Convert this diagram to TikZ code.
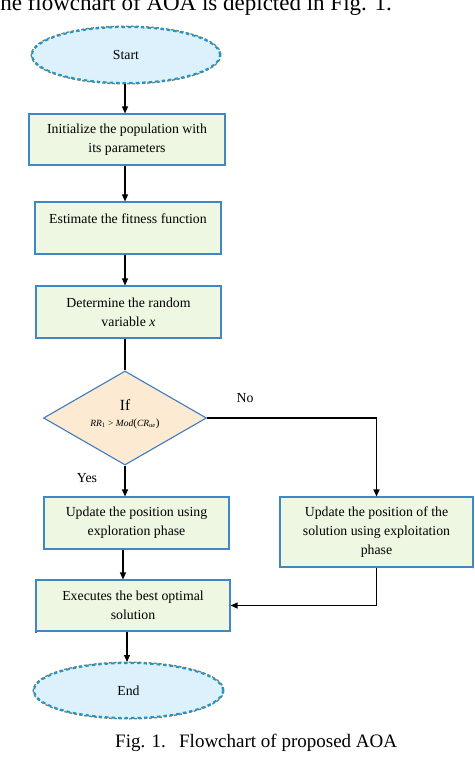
\documentclass[tikz,border=0pt]{standalone}
\usepackage{fontspec}
\setmainfont{Liberation Serif}
\usetikzlibrary{shapes.geometric,arrows.meta}
\definecolor{ellfill}{RGB}{220,241,251}
\definecolor{elldash}{RGB}{30,150,210}
\definecolor{elldot}{RGB}{130,130,90}
\definecolor{boxfill}{RGB}{237,247,225}
\definecolor{boxline}{RGB}{63,135,197}
\definecolor{diafill}{RGB}{252,235,210}
\definecolor{dialine}{RGB}{62,123,191}
\tikzset{
  term/.style={ellipse, fill=ellfill, draw=elldash, line width=2pt,
    dash pattern=on 3.5pt off 3pt, inner sep=0pt,
    preaction={draw=elldot, line width=3pt, dotted},
    font=\fontsize{13.8}{19}\selectfont},
  procbox/.style={rectangle, fill=boxfill, draw=boxline, line width=1.1pt,
    inner sep=0pt, align=center, font=\fontsize{13.8}{19}\selectfont,
    preaction={draw=black!60, line width=1.1pt, dotted, transform canvas={yshift=-0.8pt}}},
  decbox/.style={diamond, fill=diafill, draw=dialine, line width=1.1pt,
    inner sep=0pt, align=center},
  arr/.style={line width=1.2pt, -{Triangle[length=7pt,width=6pt]}},
  lbl/.style={font=\fontsize{13.8}{16}\selectfont}
}
\begin{document}
\begin{tikzpicture}[x=1pt,y=-1pt]
\useasboundingbox (0,0) rectangle (474,781);
\node[anchor=base west, font=\fontsize{23}{26}\selectfont, inner sep=0pt] (top) at (-14,11) {The flowchart of AOA is depicted in Fig. 1.};
\node[term, minimum width=188pt, minimum height=56pt] (start) at (126,55) {Start};
\node[procbox, minimum width=196pt, minimum height=51pt] (init) at (127,139.5) {Initialize the population with\\its parameters};
\node[procbox, minimum width=186pt, minimum height=52pt] (fit) at (128,228) {Estimate the fitness function\\\mbox{}};
\node[procbox, minimum width=185pt, minimum height=52pt] (rand) at (128.5,312) {Determine the random\\variable \textit{x}};
\node[decbox, minimum width=163pt, minimum height=94pt] (dec) at (125,418) {};
\node[font=\fontsize{15.5}{16}\selectfont, inner sep=0pt] (iftxt) at (125,405) {If};
\node[font=\fontsize{9.5}{10}\selectfont, inner sep=0pt] (cond) at (125,424) {\textit{RR}\textsubscript{1} > \textit{Mod}{\fontsize{11}{11}\selectfont(}\textit{CR}\textsubscript{\textit{ue}}{\fontsize{11}{11}\selectfont)}};
\node[procbox, minimum width=185pt, minimum height=52pt] (explore) at (136.5,523) {Update the position using\\exploration phase};
\node[procbox, minimum width=193pt, minimum height=70pt] (exploit) at (376.5,532) {Update the position of the\\solution using exploitation\\phase};
\node[procbox, minimum width=194pt, minimum height=51pt] (exec) at (133,605.5) {Executes the best optimal\\solution};
\node[term, minimum width=189pt, minimum height=55pt] (end) at (128.5,690.5) {End};
\node[lbl] (no) at (245,398) {No};
\node[lbl] (yes) at (87,478) {Yes};
\node[anchor=base west, font=\fontsize{19}{22}\selectfont, inner sep=0pt] (cap) at (115,747) {Fig. 1.\hspace{0.7em}Flowchart of proposed AOA};
\coordinate (c1) at (125,0);
\coordinate (c2) at (123,0);
\coordinate (c3) at (127,0);
\draw[arr] (c1 |- start.south) -- (c1 |- init.north);
\draw[arr] (c1 |- init.south) -- (c1 |- fit.north);
\draw[arr] (c1 |- fit.south) -- (c1 |- rand.north);
\draw[line width=1.2pt] (c1 |- rand.south) -- (dec.north);
\draw[arr] (dec.south) -- (dec.south |- explore.north);
\draw[arr] (dec.east) -| (exploit.north);
\draw[arr] (c2 |- explore.south) -- (c2 |- exec.north);
\draw[arr] (exploit.south) |- (exec.east);
\draw[arr] (c3 |- exec.south) -- (c3 |- end.north);
\end{tikzpicture}
\end{document}
